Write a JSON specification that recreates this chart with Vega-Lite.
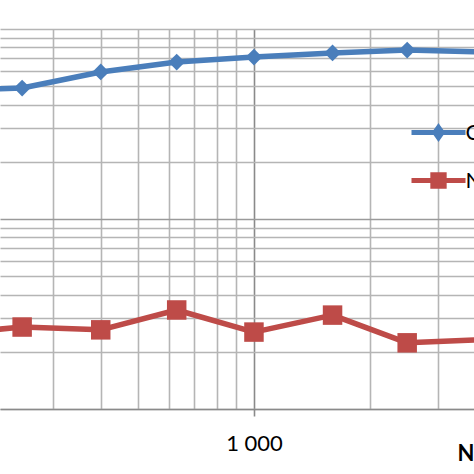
{
  "$schema": "https://vega.github.io/schema/vega-lite/v6.json",
  "width": 474,
  "height": 380,
  "autosize": {"type": "none"},
  "padding": {"left": 0, "right": 0, "top": 29, "bottom": 65},
  "background": "white",
  "config": {"view": {"stroke": null}, "font": "Lato"},
  "data": {
    "values": [
      {"N": 160, "value": 47.7, "series": "C"},
      {"N": 250, "value": 48.9, "series": "C"},
      {"N": 400, "value": 59.4, "series": "C"},
      {"N": 630, "value": 67.0, "series": "C"},
      {"N": 1000, "value": 71.2, "series": "C"},
      {"N": 1600, "value": 74.8, "series": "C"},
      {"N": 2500, "value": 77.5, "series": "C"},
      {"N": 4000, "value": 75.7, "series": "C"},
      {"N": 160, "value": 2.48, "series": "N"},
      {"N": 250, "value": 2.70, "series": "N"},
      {"N": 400, "value": 2.61, "series": "N"},
      {"N": 630, "value": 3.32, "series": "N"},
      {"N": 1000, "value": 2.54, "series": "N"},
      {"N": 1600, "value": 3.12, "series": "N"},
      {"N": 2500, "value": 2.23, "series": "N"},
      {"N": 4000, "value": 2.32, "series": "N"}
    ]
  },
  "encoding": {
    "x": {
      "field": "N",
      "type": "quantitative",
      "scale": {"type": "log", "domain": [219, 3728], "nice": false},
      "axis": {
        "values": [200, 300, 400, 500, 600, 700, 800, 900, 1000, 2000, 3000, 4000],
        "title": "N",
        "grid": true,
        "gridColor": {"condition": {"test": "datum.value == 1000", "value": "#8a8a8a"}, "value": "#b5b5b5"},
        "gridWidth": 1.6,
        "domainColor": "#8a8a8a",
        "domainWidth": 1.6,
        "tickColor": {"condition": {"test": "datum.value == 1000", "value": "#8a8a8a"}, "value": "transparent"},
        "tickSize": 7,
        "tickWidth": 1.6,
        "labelExpr": "datum.value == 1000 ? '1 000' : ''",
        "labelFont": "Lato",
        "labelFontSize": 22,
        "labelColor": "#000000",
        "labelBaseline": "alphabetic",
        "labelPadding": 34,
        "labelFlush": false,
        "labelOverlap": false,
        "titleFont": "Lato",
        "titleFontSize": 22,
        "titleFontWeight": "bold",
        "titleColor": "#000000",
        "titleX": 457,
        "titleY": 51,
        "titleAlign": "left",
        "titleBaseline": "alphabetic"
      }
    },
    "y": {
      "field": "value",
      "type": "quantitative",
      "scale": {"type": "log", "domain": [1, 100], "nice": false},
      "axis": {
        "values": [1, 2, 3, 4, 5, 6, 7, 8, 9, 10, 20, 30, 40, 50, 60, 70, 80, 90, 100],
        "labels": false,
        "ticks": false,
        "domain": false,
        "title": null,
        "grid": true,
        "gridColor": {"condition": {"test": "datum.value == 10", "value": "#9a9a9a"}, "value": "#b5b5b5"},
        "gridWidth": 1.6
      }
    },
    "color": {
      "field": "series",
      "type": "nominal",
      "scale": {"domain": ["C", "N"], "range": ["#4a7ebb", "#be4b48"]},
      "legend": {
        "orient": "none",
        "legendX": 422.5,
        "legendY": 87.5,
        "title": null,
        "padding": 0,
        "labelFont": "Lato",
        "labelFontSize": 22,
        "labelColor": "#000000",
        "labelOffset": 11,
        "symbolSize": 729,
        "symbolStrokeWidth": 5,
        "rowPadding": 16
      }
    }
  },
  "layer": [
    {
      "mark": {"type": "line", "strokeWidth": 5.5, "clip": true, "strokeJoin": "round", "strokeCap": "round"}
    },
    {
      "mark": {"type": "point", "filled": true, "opacity": 0, "clip": true},
      "encoding": {
        "shape": {
          "field": "series",
          "type": "nominal",
          "scale": {"domain": ["C", "N"], "range": ["M-2,0L2,0M0,-0.38L0.27,0L0,0.38L-0.27,0Z", "M-2,0L2,0M-0.42,-0.42L0.42,-0.42L0.42,0.42L-0.42,0.42Z"]},
          "legend": {
            "orient": "none",
            "legendX": 422.5,
            "legendY": 87.5,
            "title": null,
            "padding": 0,
            "labelFont": "Lato",
            "labelFontSize": 22,
            "labelColor": "#000000",
            "labelOffset": 11,
            "symbolSize": 729,
            "symbolStrokeWidth": 5,
            "rowPadding": 16
          }
        }
      }
    },
    {
      "mark": {"type": "point", "filled": true, "opacity": 1, "clip": true, "strokeWidth": 0},
      "encoding": {
        "shape": {"condition": {"test": "datum.series == 'N'", "value": "square"}, "value": "diamond"},
        "size": {"condition": {"test": "datum.series == 'N'", "value": 380}, "value": 280}
      }
    }
  ]
}
